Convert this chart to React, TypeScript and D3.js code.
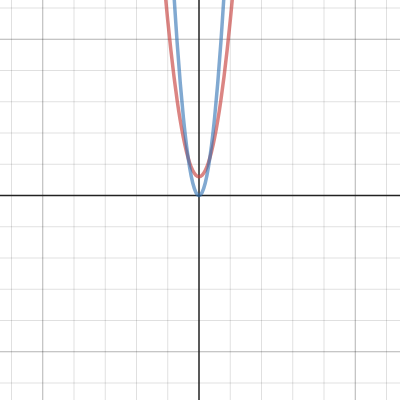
import { useEffect, useRef } from "react";
import * as d3 from "d3";

// points (graph units, one unit = one minor grid square)
const blueX = [-0.85, -0.8, -0.7, -0.6, -0.5, -0.4, -0.3, -0.2, -0.1, 0, 0.1, 0.2, 0.3, 0.4, 0.5, 0.6, 0.7, 0.8, 0.85];
const blueY = [7.2, 6.4, 4.9, 3.6, 2.5, 1.6, 0.9, 0.4, 0.1, 0, 0.1, 0.4, 0.9, 1.6, 2.5, 3.6, 4.9, 6.4, 7.2];
const redX = [-1.15, -1.1, -1.0, -0.9, -0.8, -0.7, -0.6, -0.5, -0.4, -0.3, -0.2, -0.1, 0, 0.1, 0.2, 0.3, 0.4, 0.5, 0.6, 0.7, 0.8, 0.9, 1.0, 1.1, 1.15];
const redY = [7.2, 6.65, 5.6, 4.65, 3.8, 3.05, 2.4, 1.85, 1.4, 1.05, 0.8, 0.65, 0.6, 0.65, 0.8, 1.05, 1.4, 1.85, 2.4, 3.05, 3.8, 4.65, 5.6, 6.65, 7.2];
const gridSteps = d3.range(-7, 8);

export default function App() {
  const svgRef = useRef<SVGSVGElement>(null);

  useEffect(() => {
    const svg = svgRef.current;
    if (!svg) return;
    const sel = d3.select(svg);
    sel.selectAll("*").remove();

    const size = 400;
    const unit = 31.25;
    const ox = 199;
    const oy = 195.5;

    const x = d3.scaleLinear().domain([-ox / unit, (size - ox) / unit]).range([0, size]);
    const y = d3.scaleLinear().domain([-(size - oy) / unit, oy / unit]).range([size, 0]);

    sel.append("rect").attr("width", size).attr("height", size).attr("fill", "#fff");

    const grid = sel.append("g");
    // minor lines first, majors on top
    const minor = gridSteps.filter((d) => d % 5 !== 0);
    const major = gridSteps.filter((d) => d % 5 === 0 && d !== 0);

    grid.selectAll("line.vminor").data(minor).enter().append("line")
      .attr("x1", (d) => x(d)).attr("x2", (d) => x(d)).attr("y1", 0).attr("y2", size)
      .attr("stroke", "#000").attr("stroke-opacity", 0.12).attr("stroke-width", 1);
    grid.selectAll("line.hminor").data(minor).enter().append("line")
      .attr("y1", (d) => y(d)).attr("y2", (d) => y(d)).attr("x1", 0).attr("x2", size)
      .attr("stroke", "#000").attr("stroke-opacity", 0.12).attr("stroke-width", 1);
    grid.selectAll("line.vmajor").data(major).enter().append("line")
      .attr("x1", (d) => x(d)).attr("x2", (d) => x(d)).attr("y1", 0).attr("y2", size)
      .attr("stroke", "#000").attr("stroke-opacity", 0.3).attr("stroke-width", 1);
    grid.selectAll("line.hmajor").data(major).enter().append("line")
      .attr("y1", (d) => y(d)).attr("y2", (d) => y(d)).attr("x1", 0).attr("x2", size)
      .attr("stroke", "#000").attr("stroke-opacity", 0.3).attr("stroke-width", 1);

    // axes
    grid.append("line").attr("x1", x(0)).attr("x2", x(0)).attr("y1", 0).attr("y2", size)
      .attr("stroke", "#222").attr("stroke-width", 1.5);
    grid.append("line").attr("y1", y(0)).attr("y2", y(0)).attr("x1", 0).attr("x2", size)
      .attr("stroke", "#222").attr("stroke-width", 1.5);

    const line = d3.line<[number, number]>()
      .x((d) => x(d[0]))
      .y((d) => y(d[1]))
      .curve(d3.curveNatural);

    const series = [
      { xs: redX, ys: redY, color: "#c74440", opacity: 0.65 },
      { xs: blueX, ys: blueY, color: "#2d70b3", opacity: 0.6 },
    ];

    sel.append("g")
      .selectAll("path")
      .data(series)
      .enter()
      .append("path")
      .attr("d", (s) => line(s.xs.map((v, i) => [v, s.ys[i]] as [number, number])))
      .attr("fill", "none")
      .attr("stroke", (s) => s.color)
      .attr("stroke-opacity", (s) => s.opacity)
      .attr("stroke-width", 3.5)
      .attr("stroke-linejoin", "round")
      .attr("stroke-linecap", "round");
  }, []);

  return (
    <div style={{ position: "fixed", left: 0, top: 0, width: 400, height: 400 }}>
      <svg ref={svgRef} width={400} height={400} style={{ display: "block" }} />
    </div>
  );
}
